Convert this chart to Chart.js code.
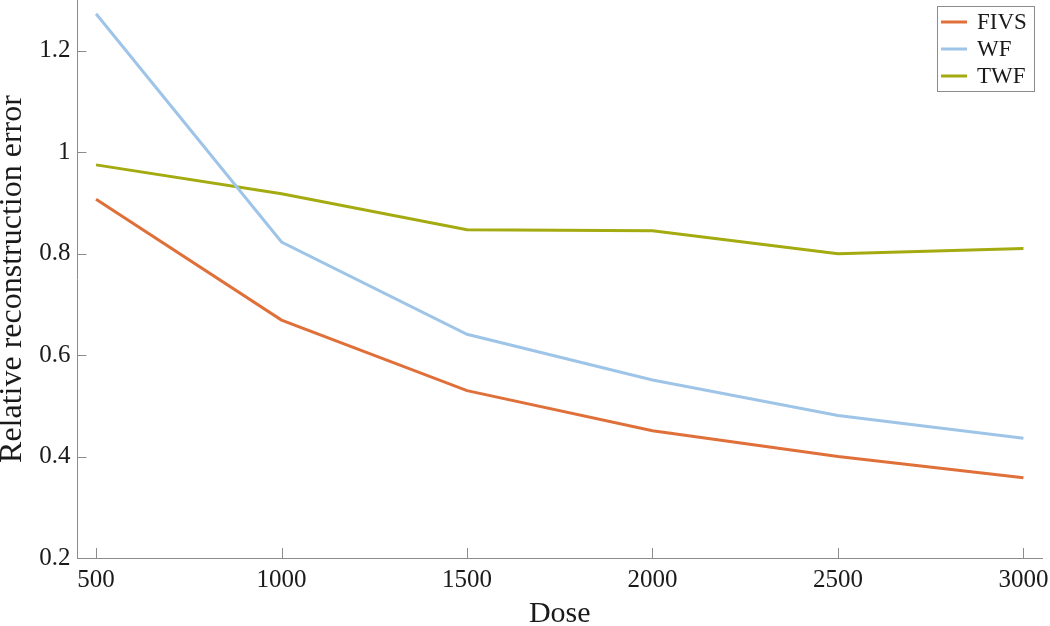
<!DOCTYPE html>
<html>
<head>
<meta charset="utf-8">
<script src="https://cdn.jsdelivr.net/npm/chart.js@4"></script>
<style>
html,body{margin:0;padding:0;background:#fff;}
#wrap{width:1050px;height:626px;position:relative;}
</style>
</head>
<body>
<div id="wrap"><canvas id="c" width="1050" height="626"></canvas></div>
<script>
const doses = [500, 1000, 1500, 2000, 2500, 3000];
const fivs = [0.907, 0.669, 0.530, 0.451, 0.400, 0.358];
const wf   = [1.273, 0.823, 0.641, 0.551, 0.481, 0.436];
const twf  = [0.975, 0.918, 0.847, 0.845, 0.800, 0.810];
const seriesNames = ['FIVS', 'WF', 'TWF'];
const seriesColors = ['#e0703a', '#9ec5e8', '#a4ab10'];
const xTicks = [500, 1000, 1500, 2000, 2500, 3000];
const yTicks = [0.2, 0.4, 0.6, 0.8, 1.0, 1.2];

const FONT = "'Liberation Serif', 'DejaVu Serif', serif";
const AXIS = '#8c8c8c';

function mk(vals){ return doses.map((d,i)=>({x:d, y:vals[i]})); }

const innerTicks = {
  id: 'innerTicks',
  afterDraw(chart){
    const ctx = chart.ctx, xs = chart.scales.x, ys = chart.scales.y;
    const a = chart.chartArea;
    ctx.save();
    ctx.strokeStyle = AXIS; ctx.lineWidth = 1;
    ctx.beginPath();
    xTicks.forEach(v=>{ const px = Math.round(xs.getPixelForValue(v))+0.5; ctx.moveTo(px, a.bottom); ctx.lineTo(px, a.bottom-10); });
    yTicks.forEach(v=>{ const py = Math.round(ys.getPixelForValue(v))+0.5; ctx.moveTo(a.left, py); ctx.lineTo(a.left+9, py); });
    ctx.stroke();
    ctx.restore();
  }
};

const boxLegend = {
  id: 'boxLegend',
  afterDraw(chart){
    const ctx = chart.ctx;
    const bx = 937.5, by = 6.5, bw = 97, bh = 85;
    ctx.save();
    ctx.fillStyle = '#fff';
    ctx.fillRect(bx, by, bw, bh);
    ctx.strokeStyle = '#8c8c8c'; ctx.lineWidth = 1;
    ctx.strokeRect(bx, by, bw, bh);
    ctx.font = "23px " + FONT;
    ctx.textBaseline = 'middle';
    ctx.fillStyle = '#1a1a1a';
    chart.data.datasets.forEach((ds, i)=>{
      const cy = 22 + i*27;
      ctx.strokeStyle = ds.borderColor; ctx.lineWidth = 3;
      ctx.beginPath(); ctx.moveTo(941, cy); ctx.lineTo(967, cy); ctx.stroke();
      ctx.fillText(ds.label, 977, cy+1);
    });
    ctx.restore();
  }
};

new Chart(document.getElementById('c'), {
  type: 'line',
  data: {
    datasets: [
      {label: seriesNames[0], data: mk(fivs), borderColor: seriesColors[0]},
      {label: seriesNames[1], data: mk(wf), borderColor: seriesColors[1]},
      {label: seriesNames[2], data: mk(twf), borderColor: seriesColors[2]}
    ].map(d=>Object.assign(d, {borderWidth: 3, pointRadius: 0, fill: false, tension: 0, backgroundColor: d.borderColor}))
  },
  options: {
    responsive: false,
    animation: false,
    devicePixelRatio: 1,
    layout: {padding: {top: 0, right: 8, left: 0, bottom: 0}},
    plugins: {legend: {display: false}, tooltip: {enabled: false}},
    scales: {
      x: {
        type: 'linear', min: 450, max: 3050,
        afterBuildTicks: s => { s.ticks = xTicks.map(v=>({value:v})); },
        afterFit: s => { s.height = 68; s.paddingLeft = 0; s.paddingRight = 0; },
        grid: {display: true, drawOnChartArea: false, drawTicks: false},
        border: {display: true, color: AXIS, width: 1},
        ticks: {padding: 7, color: '#1a1a1a', font: {family: FONT, size: 25}, maxRotation: 0, callback: v => String(v)},
        title: {display: true, text: 'Dose', color: '#1a1a1a', font: {family: FONT, size: 30, lineHeight: 1}, padding: {top: 0, bottom: -3}}
      },
      y: {
        type: 'linear', min: 0.2, max: 1.3,
        afterBuildTicks: s => { s.ticks = yTicks.map(v=>({value:v})); },
        afterFit: s => { s.width = 77.5; s.paddingTop = 0; s.paddingBottom = 0; },
        grid: {display: true, drawOnChartArea: false, drawTicks: false},
        border: {display: true, color: AXIS, width: 1},
        ticks: {padding: 7, color: '#1a1a1a', font: {family: FONT, size: 25}, callback: v => (Math.abs(v-1)<1e-9 ? '1' : v.toFixed(1))},
        title: {display: true, text: 'Relative reconstruction error', color: '#1a1a1a', font: {family: FONT, size: 32, lineHeight: 1}, padding: {top: -3, bottom: 0}}
      }
    }
  },
  plugins: [innerTicks, boxLegend]
});
</script>
</body>
</html>
